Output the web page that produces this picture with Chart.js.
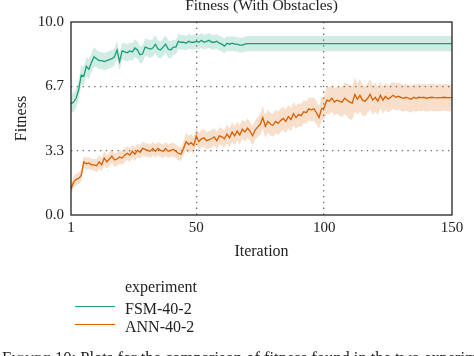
<!DOCTYPE html>
<html>
<head>
<meta charset="utf-8">
<script src="https://cdn.jsdelivr.net/npm/chart.js@4"></script>
<style>
  html,body{margin:0;padding:0;background:#fff;}
  #wrap{position:relative;width:474px;height:356px;overflow:hidden;font-family:"Liberation Serif",serif;color:#222;}
  #c{position:absolute;left:0;top:0;}
  .t{position:absolute;white-space:nowrap;line-height:1;}
  .ln{position:absolute;height:1.3px;width:40px;left:75px;}
</style>
</head>
<body>
<div id="wrap">
  <canvas id="c" width="474" height="356"></canvas>
  <div class="t" id="title" style="left:0;width:523px;text-align:center;top:-3px;font-size:15.5px;">Fitness (With Obstacles)</div>
  <div class="t" style="left:125px;top:279px;font-size:16px;">experiment</div>
  <div class="ln" style="top:306px;background:#1b9e77;"></div>
  <div class="t" style="left:125px;top:301px;font-size:16px;">FSM-40-2</div>
  <div class="ln" style="top:323.5px;background:#d95f02;"></div>
  <div class="t" style="left:125px;top:318.5px;font-size:16px;">ANN-40-2</div>
  <div class="t" style="left:2px;top:350px;font-size:16.5px;">F<span style="font-size:13px">IGURE</span> 10: Plots for the comparison of fitness found in the two experiments.</div>
</div>
<script>
const iterations = [];
for (let i = 1; i <= 150; i++) iterations.push(i);

const seriesNames = ["FSM-40-2", "ANN-40-2"];
const xTicks = [1, 50, 100, 150];
const yTicks = [0, 10/3, 20/3, 10];

const fsmMean = [
  5.75,5.85,6.05,6.5,7.25,7.2,7.7,7.55,7.9,8.2,
  8.1,8.0,8.0,7.95,8.0,8.05,8.1,8.2,8.55,7.95,
  8.5,8.45,8.4,8.5,8.45,8.65,8.55,8.3,8.35,8.7,
  8.65,8.6,8.65,8.85,8.6,8.55,8.7,8.85,8.6,8.55,
  8.7,8.7,9.0,8.95,8.95,8.9,9.0,8.95,8.95,9.0,
  8.95,9.05,8.95,9.0,9.05,8.95,8.95,9.0,8.9,8.85,
  8.75,8.9,8.85,8.9,8.85,8.85,8.8,8.8,8.85,8.88,
  8.88,8.88,8.88,8.88,8.88,8.88,8.88,8.88,8.88,8.88,
  8.88,8.88,8.88,8.88,8.88,8.88,8.88,8.88,8.88,8.88,
  8.88,8.88,8.88,8.88,8.88,8.88,8.88,8.88,8.88,8.88,
  8.88,8.88,8.88,8.88,8.88,8.88,8.88,8.88,8.88,8.88,
  8.88,8.88,8.88,8.88,8.88,8.88,8.88,8.88,8.88,8.88,
  8.88,8.88,8.88,8.88,8.88,8.88,8.88,8.88,8.88,8.88,
  8.88,8.88,8.88,8.88,8.88,8.88,8.88,8.88,8.88,8.88,
  8.88,8.88,8.88,8.88,8.88,8.88,8.88,8.88,8.88,8.88
];
const fsmSd = [
  0.5,0.5,0.5,0.5,0.5,0.5,0.5,0.5,0.5,0.5,
  0.45,0.45,0.45,0.45,0.45,0.45,0.45,0.45,0.45,0.45,
  0.45,0.45,0.45,0.45,0.45,0.45,0.45,0.45,0.45,0.45,
  0.45,0.45,0.45,0.45,0.45,0.45,0.45,0.45,0.45,0.45,
  0.38,0.38,0.38,0.38,0.38,0.38,0.38,0.38,0.38,0.38,
  0.38,0.38,0.38,0.38,0.38,0.38,0.38,0.38,0.38,0.38,
  0.38,0.38,0.38,0.38,0.38,0.38,0.38,0.38,0.38,0.4,
  0.4,0.4,0.4,0.4,0.4,0.4,0.4,0.4,0.4,0.4,
  0.4,0.4,0.4,0.4,0.4,0.4,0.4,0.4,0.4,0.4,
  0.4,0.4,0.4,0.4,0.4,0.4,0.4,0.4,0.4,0.4,
  0.4,0.4,0.4,0.4,0.4,0.4,0.4,0.4,0.4,0.4,
  0.4,0.4,0.4,0.4,0.4,0.4,0.4,0.4,0.4,0.4,
  0.4,0.4,0.4,0.4,0.4,0.4,0.4,0.4,0.4,0.4,
  0.4,0.4,0.4,0.4,0.4,0.4,0.4,0.4,0.4,0.4,
  0.4,0.4,0.4,0.4,0.4,0.4,0.4,0.4,0.4,0.4
];
const annMean = [
  1.35,1.7,1.85,1.9,2.05,2.75,2.65,2.7,2.6,2.6,
  2.55,2.75,2.6,2.95,2.75,2.9,3.05,2.85,2.9,3.0,
  2.95,3.1,3.2,3.1,3.3,3.15,3.35,3.25,3.45,3.4,
  3.35,3.3,3.45,3.3,3.45,3.35,3.3,3.45,3.3,3.35,
  3.4,3.3,3.2,3.15,3.45,3.8,3.65,3.75,3.6,4.1,
  3.8,3.95,4.0,3.85,3.9,3.95,4.05,3.85,4.1,4.05,
  3.95,4.2,4.0,4.3,4.1,4.35,4.15,4.45,4.3,4.5,
  4.35,4.1,4.4,4.55,4.7,5.05,4.6,4.85,4.7,4.65,
  4.85,4.75,4.9,5.0,4.85,5.1,4.95,5.25,5.05,5.2,
  5.15,5.35,5.3,5.5,5.45,5.5,5.3,5.05,5.5,5.55,
  5.95,5.9,6.05,5.85,5.95,5.9,5.85,6.05,5.95,5.85,
  5.8,6.25,6.0,6.2,5.95,5.9,6.05,6.25,5.95,6.1,
  5.9,6.2,5.95,6.15,6.0,6.1,6.2,6.1,6.15,6.1,
  6.05,6.1,6.05,6.0,6.1,6.05,6.1,6.08,6.1,6.05,
  6.08,6.1,6.08,6.07,6.08,6.08,6.1,6.08,6.08,6.08
];
const annSd = [
  0.3,0.3,0.3,0.3,0.3,0.3,0.3,0.3,0.3,0.3,
  0.35,0.35,0.35,0.35,0.35,0.35,0.35,0.35,0.35,0.35,
  0.35,0.35,0.35,0.35,0.35,0.35,0.35,0.35,0.35,0.35,
  0.35,0.35,0.35,0.35,0.35,0.35,0.35,0.35,0.35,0.35,
  0.35,0.35,0.35,0.35,0.35,0.45,0.45,0.45,0.45,0.45,
  0.45,0.45,0.45,0.45,0.45,0.45,0.45,0.45,0.45,0.45,
  0.45,0.5,0.5,0.5,0.5,0.5,0.5,0.5,0.5,0.5,
  0.5,0.5,0.5,0.5,0.55,0.6,0.6,0.6,0.6,0.6,
  0.6,0.6,0.6,0.6,0.6,0.6,0.6,0.6,0.6,0.6,
  0.6,0.6,0.6,0.6,0.6,0.6,0.6,0.6,0.6,0.6,
  0.7,0.7,0.7,0.7,0.7,0.75,0.8,0.8,0.85,0.9,
  0.85,0.9,0.8,0.85,0.8,0.8,0.75,0.8,0.75,0.75,
  0.7,0.7,0.7,0.7,0.7,0.7,0.7,0.7,0.7,0.7,
  0.7,0.7,0.7,0.7,0.7,0.7,0.7,0.7,0.7,0.7,
  0.7,0.7,0.7,0.7,0.7,0.7,0.7,0.7,0.7,0.7
];

const colors = ["#1b9e77", "#d95f02"];
const bandColors = ["rgba(27,158,119,0.2)", "rgba(217,95,2,0.2)"];

function pts(mean, sd, sign) {
  return iterations.map((x, i) => ({x: x, y: mean[i] + sign * sd[i]}));
}

const means = [fsmMean, annMean];
const sds = [fsmSd, annSd];
const datasets = [];
means.forEach((m, k) => {
  datasets.push({label: seriesNames[k] + " upper", data: pts(m, sds[k], 1), borderWidth: 0, borderColor: "rgba(0,0,0,0)", pointRadius: 0, fill: false, tension: 0});
  datasets.push({label: seriesNames[k] + " lower", data: pts(m, sds[k], -1), borderWidth: 0, borderColor: "rgba(0,0,0,0)", pointRadius: 0, fill: "-1", backgroundColor: bandColors[k], tension: 0});
});
means.forEach((m, k) => {
  datasets.push({label: seriesNames[k], data: pts(m, sds[k], 0), borderWidth: 1.3, borderColor: colors[k], pointRadius: 0, fill: false, tension: 0});
});

const frame = {
  id: "frame",
  afterDraw(chart) {
    const a = chart.chartArea, ctx = chart.ctx;
    ctx.save();
    ctx.strokeStyle = "#222";
    ctx.lineWidth = 1.3;
    ctx.strokeRect(a.left, a.top, a.right - a.left, a.bottom - a.top);
    ctx.restore();
  }
};

const font = {family: "Liberation Serif", size: 15};
const tfont = {family: "Liberation Serif", size: 16};
new Chart(document.getElementById("c"), {
  type: "line",
  data: {datasets: datasets},
  plugins: [frame],
  options: {
    responsive: false,
    animation: false,
    layout: {padding: {left: 0, right: 22, top: 22, bottom: 91}},
    plugins: {legend: {display: false}, tooltip: {enabled: false}, title: {display: false}},
    scales: {
      x: {
        type: "linear", min: 1, max: 150,
        afterBuildTicks: s => { s.ticks = xTicks.map(v => ({value: v})); },
        afterFit: s => { s.height = 50; },
        ticks: {font: font, color: "#222", padding: 4, maxRotation: 0, callback: v => String(v)},
        grid: {drawTicks: false, color: ctx => (ctx.tick && (ctx.tick.value === 1 || ctx.tick.value === 150)) ? "rgba(0,0,0,0)" : "#666", lineWidth: 1.3},
        border: {display: false, dash: [1.3, 4.5]},
        title: {display: true, text: "Iteration", font: tfont, color: "#222", padding: {top: 3}}
      },
      y: {
        min: 0, max: 10,
        afterBuildTicks: s => { s.ticks = yTicks.map(v => ({value: v})); },
        afterFit: s => { s.width = 71; },
        ticks: {font: font, color: "#222", padding: 7, callback: v => v.toFixed(1)},
        grid: {drawTicks: false, color: ctx => (ctx.tick && (ctx.tick.value === 0 || ctx.tick.value === 10)) ? "rgba(0,0,0,0)" : "#666", lineWidth: 1.3},
        border: {display: false, dash: [1.3, 4.5]},
        title: {display: true, text: "Fitness", font: tfont, color: "#222", padding: {top: 12, bottom: 0}}
      }
    }
  }
});
</script>
</body>
</html>
